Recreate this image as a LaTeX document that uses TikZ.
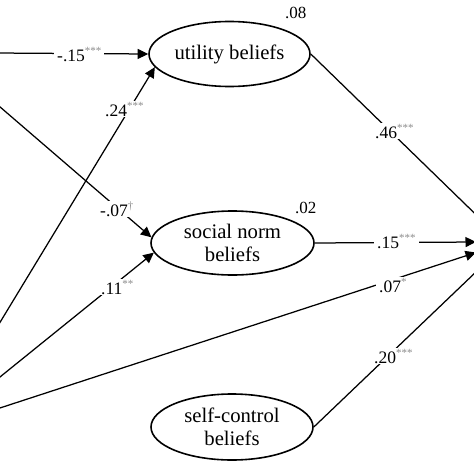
\documentclass[tikz,border=0pt]{standalone}
\usepackage{fontspec}
\setmainfont{Liberation Serif}
\usetikzlibrary{shapes.geometric,arrows.meta}
\newcommand\sigmk[1]{\raisebox{6.5pt}{\fontsize{11}{11}\selectfont\color{black!45}#1}}
\begin{document}
\begin{tikzpicture}[x=1pt,y=-1pt,
  belief/.style={ellipse, draw, line width=1.6pt, inner sep=0pt, align=center,
    font=\fontsize{20.7}{23}\selectfont},
  conn/.style={line width=1.25pt},
  arr/.style={conn, -{Triangle[length=10.5pt,width=10pt]}},
  lbl/.style={fill=white, inner xsep=3pt, inner ysep=1pt, anchor=base west,
    font=\fontsize{17.5}{17.5}\selectfont},
  rsq/.style={inner sep=0pt, anchor=base west, font=\fontsize{17}{17}\selectfont}]
\clip (0,0) rectangle (474,474);
\fill[white] (0,0) rectangle (474,474);
% belief nodes
\node[belief, minimum width=161pt, minimum height=65pt] (util) at (229.5,54) {utility beliefs};
\node[belief, minimum width=163pt, minimum height=64pt] (soc) at (232.5,243) {social norm\\beliefs};
\node[belief, minimum width=162pt, minimum height=66pt] (self) at (232,427) {self-control\\beliefs};
% off-picture end points
\coordinate (s1) at (-5,53);
\coordinate (s2) at (-5,102.6);
\coordinate (s3) at (-5,330.6);
\coordinate (s4) at (-5,381);
\coordinate (s5) at (-5,409.6);
\coordinate (t15) at (476,242);
\coordinate (t07) at (476,252.5);
\coordinate (t46) at (500,238);
\coordinate (t20) at (500,249);
% connectors
\draw[arr] (s1) -- (util.west);
\draw[arr] (s3) -- (util.190);
\draw[arr] (s2) -- (soc.176);
\draw[arr] (s4) -- (soc.187);
\draw[arr] (s5) -- (t07);
\draw[arr] (soc.east) -- (t15);
\draw[arr] (util.east) -- (t46);
\draw[arr] (self.east) -- (t20);
% path labels
\node[lbl] (l1) at (54,61) {-.15\sigmk{***}};
\node[lbl] (l2) at (102,116) {.24\sigmk{***}};
\node[lbl] (l3) at (97,216) {-.07\sigmk{†}};
\node[lbl] (l4) at (98,294) {.11\sigmk{**}};
\node[lbl] (l5) at (376,292) {.07\sigmk{*}};
\node[lbl] (l6) at (374,248) {.15\sigmk{***}};
\node[lbl] (l7) at (372,138) {.46\sigmk{***}};
\node[lbl] (l8) at (371,363) {.20\sigmk{***}};
% explained variance
\node[rsq] (r1) at (285,18) {.08};
\node[rsq] (r2) at (295,213) {.02};
\end{tikzpicture}
\end{document}
